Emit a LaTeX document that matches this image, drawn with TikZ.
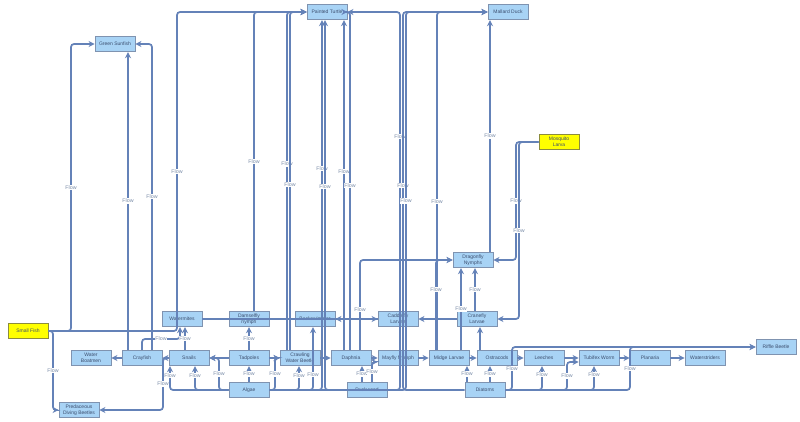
\documentclass[tikz,border=0pt]{standalone}
\usepackage{fontspec}
\setmainfont{Liberation Sans}
\usetikzlibrary{arrows.meta}
\definecolor{boxfill}{HTML}{A8D3F5}
\definecolor{boxline}{HTML}{7F93B0}
\definecolor{flowc}{HTML}{6482B8}
\definecolor{lblc}{HTML}{7A8CA8}
\definecolor{boxtext}{HTML}{3C4E6E}
\definecolor{yfill}{HTML}{FFFF00}
\definecolor{yline}{HTML}{8C8C3C}
\tikzset{
 box/.style={draw=boxline, fill=boxfill, minimum width=40pt, minimum height=15.5pt, inner sep=0.3pt, align=center, font=\fontsize{5}{5.6}\selectfont, text=boxtext, line width=0.9pt},
 ybox/.style={box, fill=yfill, draw=yline},
 fl/.style={draw=flowc, line width=1.7pt, rounded corners=3pt, -{Stealth[length=6pt,width=6pt]}},
 lbl/.style={fill=white, inner sep=0.6pt, font=\fontsize{5.3}{5.3}\selectfont, text=lblc, rounded corners=0pt},
}
\begin{document}
\begin{tikzpicture}[x=1pt,y=-1pt]
\useasboundingbox[fill=white] (0,0) rectangle (800,422);
% nodes
\node[box] (gs) at (115,44) {Green Sunfish};
\node[box] (pt) at (327,12) {Painted Turtle};
\node[box] (md) at (508,12) {Mallard Duck};
\node[ybox] (mq) at (559,142) {Mosquito\\Larva};
\node[box] (dn) at (473,260) {Dragonfly\\Nymphs};
\node[ybox] (sf) at (28,331) {Small Fish};
\node[box] (wm) at (182,319) {Watermites};
\node[box] (dam) at (249,319) {Damselfly\\nymph};
\node[box] (bs) at (315,319) {Backswimmer};
\node[box] (cad) at (398,319) {Caddisfly\\Larvae};
\node[box] (cran) at (477,319) {Cranefly\\Larvae};
\node[box] (wb) at (91,358) {Water\\Boatmen};
\node[box] (cray) at (142,358) {Crayfish};
\node[box] (sn) at (189,358) {Snails};
\node[box] (tad) at (249,358) {Tadpoles};
\node[box] (cwb) at (300,358) {Crawling\\Water Beetle};
\node[box] (daph) at (351,358) {Daphnia};
\node[box] (may) at (398,358) {Mayfly Nymph};
\node[box] (mid) at (449,358) {Midge Larvae};
\node[box] (ost) at (497,358) {Ostracods};
\node[box] (lee) at (544,358) {Leeches};
\node[box] (tub) at (599,358) {Tubifex Worm};
\node[box] (pla) at (650,358) {Planaria};
\node[box] (ws) at (705,358) {Waterstriders};
\node[box] (rb) at (776,347) {Riffle Beetle};
\node[box] (alg) at (249,390) {Algae};
\node[box] (dw) at (367,390) {Duckweed};
\node[box] (dia) at (485,390) {Diatoms};
\node[box] (pdb) at (79,410) {Predaceous\\Diving Beetles};
% Green Sunfish
\draw[fl] (sf.east) -- (71,331) -- node[lbl]{Flow} (71,44) -- (gs.west);
\draw[fl] ([xshift=-14pt]cray.north) -- node[lbl]{Flow} ([xshift=13pt]gs.south);
\draw[fl] ([xshift=10pt]cray.north) -- node[lbl]{Flow} (152,44) -- (gs.east);
% Painted Turtle
\draw[fl] (sf.east) -- (177,331) -- node[lbl]{Flow} (177,12) -- (pt.west);
\draw[fl] ([xshift=5pt]dam.north) -- node[lbl]{Flow} (254,12) -- (pt.west);
\draw[fl] ([xshift=-13pt]cwb.north) -- node[lbl,pos=0.55]{Flow} (287,12) -- (pt.west);
\draw[fl] ([xshift=-10pt]cwb.north) -- node[lbl,pos=0.49]{Flow} (290,12) -- (pt.west);
\draw[fl] (alg.east) -- (322,390) -- node[lbl,pos=0.6]{Flow} ([xshift=-5pt]pt.south);
\draw[fl] (dw.west) -- (325,390) -- node[lbl,pos=0.55]{Flow} ([xshift=-2pt]pt.south);
\draw[fl] ([xshift=-7pt]daph.north) -- node[lbl,pos=0.54]{Flow} ([xshift=17pt]pt.south);
\draw[fl] ([xshift=-1pt]daph.north) -- node[lbl,pos=0.487]{Flow} (350,12) -- (pt.east);
% Mallard Duck
\draw[fl] (alg.east) -- (400,390) -- node[lbl,pos=0.67]{Flow} (400,12) -- (pt.east);
\draw[fl] (dia.west) -- (403,390) -- node[lbl,pos=0.54]{Flow} (403,12) -- (md.west);
\draw[fl] (dw.east) -- (406,390) -- node[lbl,pos=0.5]{Flow} (406,12) -- (md.west);
\draw[fl] ([xshift=-12pt]mid.north) -- node[lbl,pos=0.44]{Flow} (437,12) -- (md.west);
\draw[fl] ([xshift=17pt]dn.north) -- node[lbl]{Flow} ([xshift=-18pt]md.south);
% Dragonfly Nymphs
\draw[fl] (mq.west) -- (516,142) -- node[lbl]{Flow} (516,260) -- (dn.east);
\draw[fl] (mq.west) -- (519,142) -- node[lbl]{Flow} (519,319) -- (cran.east);
\draw[fl] ([xshift=-2pt]cran.north) -- node[lbl]{Flow} ([xshift=2pt]dn.south);
\draw[fl] ([xshift=12pt]mid.north) -- node[lbl]{Flow} ([xshift=-12pt]dn.south);
\draw[fl] ([xshift=9pt]daph.north) -- node[lbl,pos=0.45]{Flow} (360,260) -- (dn.west);
\draw[fl] ([xshift=-13pt]mid.north) -- node[lbl,pos=0.67]{Flow} (436,260) -- (dn.west);
% Watermites
\draw[fl] (cray.north) -- (142,339) -- node[lbl]{Flow} (180,339) -- ([xshift=-2pt]wm.south);
\draw[fl] ([xshift=-4pt]sn.north) -- node[lbl]{Flow} ([xshift=3pt]wm.south);
% row of larvae
\draw[fl] (wm.east) -- (cad.west);
\draw[fl] (cad.west) -- (bs.east);
\draw[fl] (cran.west) -- (cad.east);
\draw[fl] ([xshift=-17pt]ost.north) -- ([xshift=3pt]cran.south);
% row of grazers
\draw[fl] (cray.west) -- (wb.east);
\draw[fl] (sn.west) -- (cray.east);
\draw[fl] (tad.west) -- (sn.east);
\draw[fl] (tad.east) -- (cwb.west);
\draw[fl] (cwb.east) -- (daph.west);
\draw[fl] (daph.east) -- (may.west);
\draw[fl] (may.east) -- (mid.west);
\draw[fl] (mid.east) -- (ost.west);
\draw[fl] (ost.east) -- (lee.west);
\draw[fl] (lee.east) -- (tub.west);
\draw[fl] (tub.east) -- (pla.west);
\draw[fl] (pla.east) -- (ws.west);
% Tadpoles / Damselfly
\draw[fl] (tad.north) -- node[lbl]{Flow} (dam.south);
\draw[fl] (alg.north) -- node[lbl]{Flow} (tad.south);
% Algae bus
\draw[fl] (alg.west) -- (170,390) -- node[lbl,pos=0.6]{Flow} ([xshift=-19pt]sn.south);
\draw[fl] (alg.west) -- (195,390) -- node[lbl,pos=0.6]{Flow} ([xshift=6pt]sn.south);
\draw[fl] (alg.west) -- (219,390) -- node[lbl]{Flow} (219,358) -- (sn.east);
\draw[fl] (alg.east) -- (275,390) -- node[lbl]{Flow} (275,358) -- (cwb.west);
\draw[fl] (alg.east) -- (299,390) -- node[lbl,pos=0.6]{Flow} ([xshift=-1pt]cwb.south);
\draw[fl] (alg.east) -- (313,390) -- node[lbl,pos=0.25]{Flow} ([xshift=-2pt]bs.south);
% Duckweed
\draw[fl] ([xshift=-5pt]dw.north) -- node[lbl]{Flow} ([xshift=11pt]daph.south);
\draw[fl] ([xshift=5pt]dw.north) -- node[lbl]{Flow} (372,362) -- ([yshift=-4pt]may.west);
% Diatoms
\draw[fl] ([xshift=-18pt]dia.north) -- node[lbl]{Flow} ([xshift=18pt]mid.south);
\draw[fl] ([xshift=5pt]dia.north) -- node[lbl]{Flow} ([xshift=-7pt]ost.south);
\draw[fl] (dia.east) -- (512,390) -- node[lbl]{Flow} (512,347) -- (rb.west);
\draw[fl] (dia.east) -- (542,390) -- node[lbl,pos=0.66]{Flow} ([xshift=-2pt]lee.south);
\draw[fl] (dia.east) -- (567,390) -- node[lbl]{Flow} (567,362) -- ([yshift=-4pt]tub.west);
\draw[fl] (dia.east) -- (594,390) -- node[lbl,pos=0.66]{Flow} ([xshift=-5pt]tub.south);
\draw[fl] (dia.east) -- (630,390) -- node[lbl]{Flow} (630,347) -- (rb.west);
% Predaceous Diving Beetles
\draw[fl] (sn.west) -- (163,358) -- node[lbl]{Flow} (163,410) -- (pdb.east);
\draw[fl] (sf.east) -- (53,331) -- node[lbl]{Flow} (53,410) -- (pdb.west);
\end{tikzpicture}
\end{document}
